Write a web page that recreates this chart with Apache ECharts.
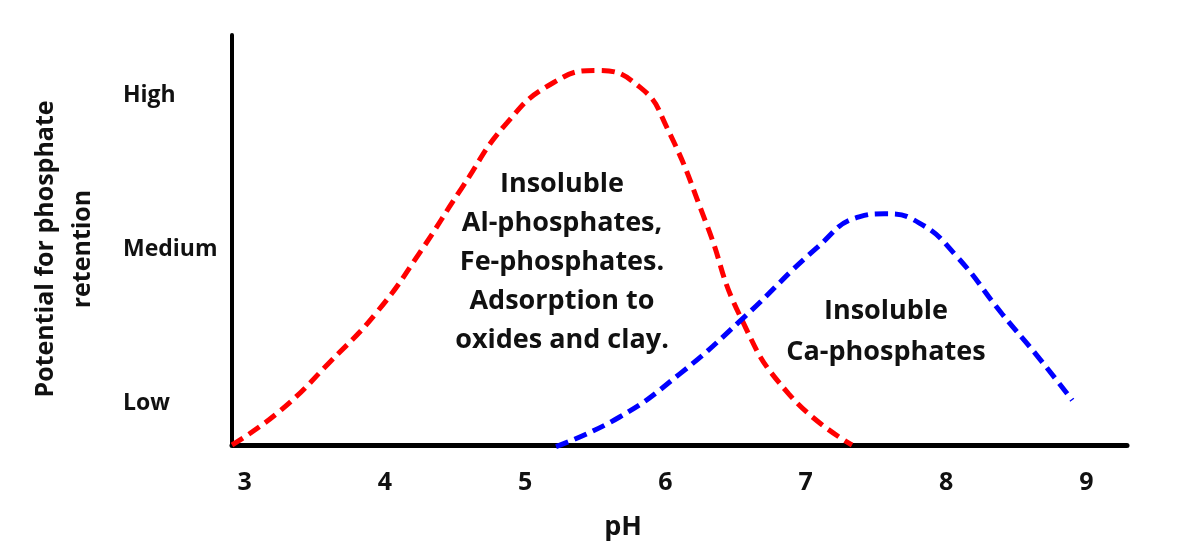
<!DOCTYPE html>
<html>
<head>
<meta charset="utf-8">
<script src="https://cdn.jsdelivr.net/npm/echarts@6/dist/echarts.min.js"></script>
<style>
  html, body { margin: 0; padding: 0; background: #fff; }
  #chart { width: 1199px; height: 551px; }
</style>
</head>
<body>
<div id="chart"></div>
<script>
// pH tick labels
var xTicks = [3, 4, 5, 6, 7, 8, 9];
// retention level ticks (value -> label)
var yTickValues = [1, 2, 3];
var yTickLabels = ['Low', 'Medium', 'High'];

// Red curve: Al/Fe phosphates (pH, level)
var alFePH =    [2.91, 3.25, 3.61, 3.95, 4.25, 4.55, 4.87, 5.20, 5.51, 5.82, 6.01, 6.29, 6.53, 6.88, 7.33];
var alFeLevel = [0.73, 0.95, 1.27, 1.60, 1.98, 2.40, 2.82, 3.08, 3.16, 3.05, 2.79, 2.17, 1.57, 1.06, 0.73];

// Blue curve: Ca phosphates (pH, level)
var caPH =    [5.22, 5.67, 6.10, 6.55, 7.08, 7.38, 7.56, 7.81, 8.07, 8.40, 8.64, 8.90];
var caLevel = [0.72, 0.91, 1.19, 1.55, 2.01, 2.21, 2.23, 2.17, 1.96, 1.58, 1.32, 1.02];

function zip(a, b) { return a.map(function (v, i) { return [v, b[i]]; }); }

var FONT = '"Open Sans", "DejaVu Sans", sans-serif';
var chart = echarts.init(document.getElementById('chart'));
chart.setOption({
  animation: false,
  backgroundColor: '#fff',
  grid: { left: 232, right: 72, top: 35, bottom: 106 },
  xAxis: {
    type: 'value',
    min: 2.91,
    max: 9.29,
    splitLine: { show: false },
    axisLine: { show: true, lineStyle: { color: '#000', width: 5 } },
    axisTick: { show: false },
    axisLabel: {
      customValues: xTicks,
      color: '#111',
      fontFamily: FONT,
      fontWeight: 'bold',
      fontSize: 25,
      margin: 25
    }
  },
  yAxis: {
    type: 'value',
    min: 0.73,
    max: 3.39,
    splitLine: { show: false },
    axisLine: { show: true, lineStyle: { color: '#000', width: 4 } },
    axisTick: { show: false },
    axisLabel: {
      customValues: yTickValues,
      formatter: function (v) { return yTickLabels[yTickValues.indexOf(v)]; },
      align: 'left',
      margin: 109,
      color: '#111',
      fontFamily: FONT,
      fontWeight: 'bold',
      fontSize: 23
    }
  },
  graphic: [
    {
      type: 'text', x: 64, y: 249, rotation: Math.PI / 2,
      style: {
        text: 'Potential for phosphate\nretention',
        x: 0, y: 0,
        fill: '#111', font: 'bold 25px ' + FONT,
        align: 'center', verticalAlign: 'middle', lineHeight: 37
      }
    },
    {
      type: 'text', x: 623, y: 527,
      style: {
        text: 'pH', fill: '#111', font: 'bold 27px ' + FONT,
        align: 'center', verticalAlign: 'middle'
      }
    },
    {
      type: 'text', x: 562, y: 262,
      style: {
        text: 'Insoluble\nAl-phosphates,\nFe-phosphates.\nAdsorption to\noxides and clay.',
        fill: '#111', font: 'bold 27px ' + FONT,
        align: 'center', verticalAlign: 'middle', lineHeight: 39
      }
    },
    {
      type: 'text', x: 886, y: 332,
      style: {
        text: 'Insoluble\nCa-phosphates',
        fill: '#111', font: 'bold 27px ' + FONT,
        align: 'center', verticalAlign: 'middle', lineHeight: 41
      }
    }
  ],
  series: [
    {
      type: 'line', name: 'Al/Fe-phosphates',
      data: zip(alFePH, alFeLevel),
      smooth: 0.5, showSymbol: false, symbol: 'none', clip: false,
      lineStyle: { color: '#ff0000', width: 5, type: [13, 7] }
    },
    {
      type: 'line', name: 'Ca-phosphates',
      data: zip(caPH, caLevel),
      smooth: 0.5, showSymbol: false, symbol: 'none', clip: false,
      lineStyle: { color: '#0000ff', width: 5, type: [13, 7] }
    }
  ]
});
</script>
</body>
</html>
